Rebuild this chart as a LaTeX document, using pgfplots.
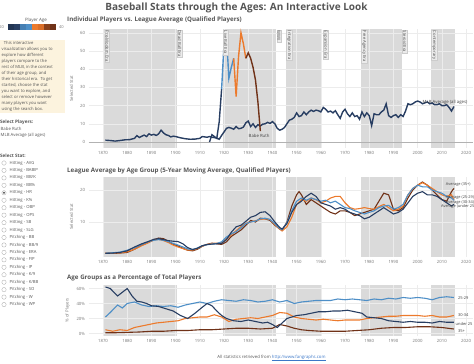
\documentclass[border=0pt]{standalone}
\usepackage{fontspec}
\setmainfont{Open Sans}
\usepackage{pgfplots}
\pgfplotsset{compat=1.18}
\definecolor{cnavy}{RGB}{40,62,98}
\definecolor{cblue}{RGB}{78,143,199}
\definecolor{corange}{RGB}{236,122,44}
\definecolor{cbrown}{RGB}{112,50,24}
\definecolor{band}{RGB}{218,218,218}
\definecolor{gridc}{RGB}{236,236,236}
\definecolor{tickc}{RGB}{120,120,120}
\definecolor{ttl}{RGB}{85,85,85}
\definecolor{tanbox}{RGB}{252,243,222}
\definecolor{linkc}{RGB}{60,120,200}
\newcommand\tk{\fontsize{4.3}{5}\selectfont}
\pgfplotsset{
  dstyle/.style={
    scale only axis, width=384.8pt,
    xmin=1864, xmax=2023,
    set layers,
    axis line style={draw=none},
    tick style={draw=none},
    xtick={1870,1880,...,2020},
    grid=major, grid style={line width=0.35pt, color=gridc},
    ticklabel style={font=\tk, text=tickc},
    /pgf/number format/1000 sep={},
    /pgf/number format/assume math mode=true,
    ylabel style={font=\tk, text=tickc},
    clip=false,
  },
  bandst/.style={fill=band, draw=none, on layer=axis background, forget plot},
}
\tikzset{eralbl/.style={rotate=-90, anchor=south west, font=\fontsize{4.2}{5}\selectfont, text=ttl, fill=white!92!black, draw=gray!40, line width=0.2pt, inner sep=0.7pt}}
\newcommand\bands[2]{%
  \addplot[bandst] coordinates {(1870.5,#1) (1900.5,#1) (1900.5,#2) (1870.5,#2)} -- cycle;
  \addplot[bandst] coordinates {(1919.5,#1) (1941.5,#1) (1941.5,#2) (1919.5,#2)} -- cycle;
  \addplot[bandst] coordinates {(1945.5,#1) (1960.5,#1) (1960.5,#2) (1945.5,#2)} -- cycle;
  \addplot[bandst] coordinates {(1976.5,#1) (1993.5,#1) (1993.5,#2) (1976.5,#2)} -- cycle;
  \addplot[bandst] coordinates {(2005.5,#1) (2015.5,#1) (2015.5,#2) (2005.5,#2)} -- cycle;
}

\pgfplotstableread{
year val
1871 1.0
1873 0.8
1875 0.5
1877 0.8
1879 1.2
1881 1.3
1883 2.0
1884 3.5
1885 2.5
1887 3.8
1888 3.0
1889 4.5
1890 3.8
1891 4.2
1892 3.6
1893 4.5
1894 6.5
1895 5.0
1896 4.0
1897 3.6
1898 2.8
1899 3.2
1900 3.0
1902 2.3
1904 1.8
1906 1.5
1908 1.6
1910 2.0
1911 3.0
1912 2.8
1913 2.6
1914 3.0
1915 2.6
1916 2.4
1917 2.2
1918 1.5
1919 3.6
1920 5.5
1921 7.5
1922 8.0
1923 7.6
1924 7.0
1925 8.5
1926 7.3
1927 7.5
1928 8.2
1929 10.5
1930 11.5
1931 8.5
1932 10.0
1933 8.0
1934 9.5
1935 8.8
1936 9.8
1937 10.0
1938 10.8
1939 10.2
1940 11.2
1941 10.0
1942 7.5
1943 6.5
1944 7.0
1945 8.0
1946 10.0
1947 12.0
1948 12.5
1949 13.5
1950 16.0
1951 14.0
1952 14.5
1953 16.5
1954 15.0
1955 16.5
1956 17.5
1957 16.8
1958 17.5
1959 17.2
1960 16.5
1961 19.0
1962 18.0
1963 16.5
1964 17.0
1965 16.0
1966 17.2
1967 15.0
1968 13.0
1969 16.5
1970 18.0
1971 15.5
1972 14.0
1973 16.0
1974 14.0
1975 14.5
1976 12.5
1977 16.5
1978 14.0
1979 16.0
1980 14.5
1981 9.0
1982 15.5
1983 15.0
1984 15.0
1985 16.5
1986 17.5
1987 21.0
1988 14.5
1989 13.5
1990 14.5
1991 15.0
1992 13.5
1993 15.0
1994 14.0
1995 17.0
1996 21.0
1997 20.5
1998 21.0
1999 22.0
2000 22.5
2001 22.0
2002 21.0
2003 21.5
2004 22.0
2005 21.0
2006 21.5
2007 20.5
2008 20.5
2009 21.0
2010 20.0
2011 20.0
2012 20.5
2013 19.0
2014 17.0
2015 19.5
}\mlbavg

\begin{document}
\begin{tikzpicture}

% ---------- main title
\node[font=\fontsize{10}{12}\selectfont\bfseries, text=ttl] at (236.5pt,356pt) {Baseball Stats through the Ages: An Interactive Look};

% ---------- sidebar
\node[font=\fontsize{4.5}{5}\selectfont, text=ttl] at (36pt,343.5pt) {Player Age};
\node[font=\fontsize{4}{5}\selectfont, text=tickc, anchor=east] at (7.5pt,337pt) {20};
\node[font=\fontsize{4}{5}\selectfont, text=tickc, anchor=west] at (55.5pt,337pt) {40};
\fill[cnavy!85!black] (7.5pt,334pt) rectangle (13.5pt,340pt);
\fill[cnavy] (13.5pt,334pt) rectangle (19.5pt,340pt);
\fill[cblue!80!cnavy] (19.5pt,334pt) rectangle (25.5pt,340pt);
\fill[cblue] (25.5pt,334pt) rectangle (31.5pt,340pt);
\fill[corange] (31.5pt,334pt) rectangle (37.5pt,340pt);
\fill[corange!85!cbrown] (37.5pt,334pt) rectangle (43.5pt,340pt);
\fill[cbrown!80!corange] (43.5pt,334pt) rectangle (49.5pt,340pt);
\fill[cbrown] (49.5pt,334pt) rectangle (55.5pt,340pt);

\fill[tanbox] (0pt,251pt) rectangle (65pt,324pt);
\node[anchor=north west, align=left, font=\fontsize{4.2}{6}\selectfont, text=ttl, inner sep=0pt] at (1.5pt,323pt) {%
\ \ This interactive\\
visualization allows you to\\
explore how different\\
players compare to the\\
rest of MLB, in the context\\
of their age group, and\\
their historical era.\ \ To get\\
started, choose the stat\\
you want to explore, and\\
select or remove however\\
many players you want\\
using the search box.};

\node[anchor=west, inner sep=0pt, font=\fontsize{4.6}{5}\selectfont\bfseries, text=ttl] at (0pt,242pt) {Select Players:};
\node[anchor=west, inner sep=0pt, font=\fontsize{4.3}{5}\selectfont, text=ttl] at (0.5pt,235.5pt) {Babe Ruth};
\node[anchor=west, inner sep=0pt, font=\fontsize{4.3}{5}\selectfont, text=ttl] at (0.5pt,229pt) {MLB Average (all ages)};
\node[anchor=west, inner sep=0pt, font=\fontsize{4.6}{5}\selectfont\bfseries, text=ttl] at (0pt,208pt) {Select Stat:};
\foreach \t [count=\i from 0] in {Hitting - AVG, Hitting - BABIP, Hitting - BB/K, Hitting - BB\%, Hitting - HR, Hitting - K\%, Hitting - OBP, Hitting - OPS, Hitting - SB, Hitting - SLG, Pitching - BB, Pitching - BB/9, Pitching - ERA, Pitching - FIP, Pitching - IP, Pitching - K/9, Pitching - K/BB, Pitching - SO, Pitching - W, Pitching - WP}{
  \pgfmathsetmacro\yy{201-\i*7.45}
  \draw[gray!70, line width=0.3pt, fill=white] (4pt,\yy pt) circle (2.2pt);
  \node[anchor=west, inner sep=0pt, font=\fontsize{4.2}{5}\selectfont, text=ttl] at (9.5pt,\yy pt) {\t};
}
\fill[ttl] (4pt,171.2pt) circle (1.2pt);

% ---------- panel titles
\node[anchor=west, inner sep=0pt, font=\fontsize{6.2}{7}\selectfont\bfseries, text=ttl] at (67pt,344.5pt) {Individual Players vs. League Average (Qualified Players)};
\node[anchor=west, inner sep=0pt, font=\fontsize{6.2}{7}\selectfont\bfseries, text=ttl] at (67pt,193pt) {League Average by Age Group (5-Year Moving Average, Qualified Players)};
\node[anchor=west, inner sep=0pt, font=\fontsize{6.2}{7}\selectfont\bfseries, text=ttl] at (67pt,86pt) {Age Groups as a Percentage of Total Players};

% ---------- panel 1
\begin{axis}[dstyle, at={(88.5pt,216pt)}, anchor=south west,
  height=118.8pt, ymin=-3.3, ymax=62, ytick={0,10,...,60},
  ylabel={Selected Stat}]
\bands{-3.3}{62}
\addplot[gray!60, line width=0.6pt, forget plot] coordinates {(1864,0) (2023,0)};
\addplot[cnavy, line width=1.4pt] table[x=year, y=val] {\mlbavg};
\addplot[cnavy, line width=1.4pt] coordinates {(1914,0) (1915,4) (1916,3) (1917,2) (1918,11) (1919,29)};
\addplot[cblue, line width=1.4pt] coordinates {(1919,29) (1920,54) (1921,59) (1922,35) (1923,41) (1924,46)};
\addplot[corange, line width=1.4pt] coordinates {(1924,46) (1925,25) (1926,47) (1927,60) (1928,54) (1929,46)};
\addplot[cbrown, line width=1.4pt] coordinates {(1929,46) (1930,49) (1931,46) (1932,41) (1933,34) (1934,22) (1935,6)};
\node[font=\fontsize{4.3}{5}\selectfont, text=black!75, inner sep=0.5pt] at (axis cs:1934.5,3.6) {Babe Ruth};
\node[anchor=west, font=\fontsize{4.3}{5}\selectfont, text=black!75, inner sep=0.5pt] at (axis cs:2001.8,21.8) {MLB Average (all ages)};
\node[eralbl] at (axis cs:1870.7,61.5) {Pre-Modern Era};
\node[eralbl] at (axis cs:1900.7,61.5) {Dead Ball Era};
\node[eralbl] at (axis cs:1919.7,61.5) {Live Ball Era};
\node[eralbl] at (axis cs:1941.7,61.5) {WWII};
\node[eralbl] at (axis cs:1945.7,61.5) {Integration Era};
\node[eralbl] at (axis cs:1960.7,61.5) {Expansion Era};
\node[eralbl] at (axis cs:1976.7,61.5) {Free Agency Era};
\node[eralbl] at (axis cs:1993.7,61.5) {Steroid Era};
\node[eralbl] at (axis cs:2005.7,61.5) {Contemporary};
\end{axis}

% ---------- panel 2
\begin{axis}[dstyle, at={(88.5pt,107.4pt)}, anchor=south west,
  height=79.4pt, ymin=-0.8, ymax=24, ytick={10,20},
  ylabel={Selected Stat}]
\bands{-0.8}{24}
\addplot[cbrown, line width=1.1pt] coordinates {(1871,0.2) (1874,0.2) (1877,0.3) (1880,0.5) (1883,1.5) (1886,2.8) (1889,3.8) (1891,4.5) (1893,5.0) (1895,4.8) (1897,4.0) (1899,3.0) (1901,2.5) (1903,1.8) (1905,1.2) (1907,1.0) (1909,1.5) (1911,2.4) (1913,3.0) (1915,3.4) (1917,3.2) (1919,3.0) (1921,3.8) (1923,5.5) (1925,6.5) (1927,7.5) (1929,9.0) (1931,10.5) (1933,10.0) (1935,11.2) (1937,11.0) (1939,10.5) (1941,9.0) (1943,7.8) (1944,7.4) (1946,10.0) (1948,15.0) (1950,18.5) (1951,19.5) (1952,18.5) (1954,15.5) (1956,17.0) (1958,16.0) (1960,15.0) (1962,14.0) (1964,13.0) (1966,12.5) (1968,13.5) (1970,13.5) (1972,13.0) (1974,12.0) (1976,12.5) (1978,13.0) (1980,13.5) (1982,14.0) (1984,16.5) (1986,19.0) (1988,18.5) (1990,14.0) (1992,13.5) (1994,14.5) (1996,17.5) (1998,20.0) (2000,21.5) (2002,22.5) (2004,21.5) (2006,20.0) (2008,18.5) (2010,17.0) (2012,16.5) (2014,19.5) (2015,20.5)};
\addplot[corange, line width=1.1pt] coordinates {(1871,0.4) (1874,0.3) (1877,0.4) (1880,0.7) (1883,1.5) (1886,2.6) (1889,3.6) (1891,4.4) (1893,4.6) (1895,4.2) (1897,3.6) (1899,2.8) (1901,2.2) (1903,1.7) (1905,1.2) (1907,1.2) (1909,1.7) (1911,2.5) (1913,3.0) (1915,3.3) (1917,3.4) (1919,3.5) (1921,4.8) (1923,6.0) (1925,7.3) (1927,8.6) (1929,9.6) (1931,10.0) (1933,10.4) (1935,10.8) (1937,11.0) (1939,10.8) (1941,9.2) (1943,7.8) (1944,7.2) (1946,8.5) (1948,11.5) (1950,15.5) (1952,17.0) (1954,16.5) (1956,17.5) (1958,17.0) (1960,16.0) (1962,16.5) (1964,17.5) (1966,18.0) (1968,18.0) (1970,16.0) (1972,14.5) (1974,14.0) (1976,14.2) (1978,14.5) (1980,14.2) (1982,14.0) (1984,14.8) (1986,15.5) (1988,14.5) (1990,13.5) (1992,14.0) (1994,15.0) (1996,18.5) (1998,20.5) (2000,21.5) (2002,22.3) (2004,21.5) (2006,20.5) (2008,19.5) (2010,18.5) (2012,18.0) (2014,18.5) (2015,17.0)};
\addplot[cblue, line width=1.1pt] coordinates {(1871,0.3) (1874,0.4) (1877,0.6) (1880,1.2) (1883,2.0) (1886,3.0) (1889,3.9) (1891,4.3) (1893,4.5) (1895,4.3) (1897,3.9) (1899,3.3) (1901,2.8) (1903,2.2) (1905,1.6) (1907,1.4) (1909,1.9) (1911,2.6) (1913,2.9) (1915,3.1) (1917,3.3) (1919,3.8) (1921,5.3) (1923,6.3) (1925,7.0) (1927,8.2) (1929,9.5) (1931,10.0) (1933,10.3) (1935,11.0) (1937,11.2) (1939,10.8) (1941,9.5) (1943,8.0) (1944,7.6) (1946,9.8) (1948,13.5) (1950,16.5) (1952,17.5) (1954,16.8) (1956,17.5) (1958,17.0) (1960,16.5) (1962,16.8) (1964,16.0) (1966,16.5) (1968,15.5) (1970,14.5) (1972,14.2) (1974,13.5) (1976,13.0) (1978,12.5) (1980,13.0) (1982,13.5) (1984,14.5) (1986,15.0) (1988,15.2) (1990,14.0) (1992,14.5) (1994,15.5) (1996,18.5) (1998,20.5) (2000,21.5) (2002,21.0) (2004,21.0) (2006,20.0) (2008,19.5) (2010,19.0) (2012,18.0) (2014,17.5) (2015,16.8)};
\addplot[cnavy, line width=1.1pt] coordinates {(1871,0.2) (1874,0.3) (1877,0.5) (1880,1.0) (1883,2.2) (1886,3.2) (1889,4.0) (1891,4.6) (1893,4.8) (1895,4.5) (1897,4.2) (1899,4.0) (1901,3.9) (1903,3.2) (1905,2.0) (1907,1.4) (1909,1.8) (1911,2.6) (1913,3.0) (1915,3.1) (1917,3.2) (1919,3.3) (1921,4.5) (1923,6.8) (1925,8.5) (1927,9.0) (1929,10.2) (1931,11.5) (1933,12.0) (1935,13.0) (1937,13.2) (1939,12.0) (1941,10.0) (1943,8.3) (1944,7.8) (1946,9.5) (1948,13.0) (1950,15.5) (1952,16.5) (1954,18.0) (1956,19.0) (1958,18.0) (1960,16.0) (1962,15.5) (1964,15.0) (1966,14.0) (1968,14.5) (1970,14.0) (1972,13.0) (1974,12.5) (1976,12.0) (1978,11.0) (1980,11.5) (1982,12.5) (1984,13.5) (1986,14.5) (1988,13.5) (1990,12.5) (1992,13.0) (1994,14.0) (1996,16.0) (1998,18.0) (2000,19.0) (2002,19.5) (2004,18.5) (2006,18.5) (2008,18.0) (2010,17.0) (2012,16.0) (2014,15.0) (2015,15.5)};
\node[anchor=west, font=\fontsize{3.9}{4}\selectfont, text=black!75, inner sep=0.3pt] at (axis cs:2011.5,21.6) {Average (35+)};
\node[anchor=west, font=\fontsize{3.9}{4}\selectfont, text=black!75, inner sep=0.3pt] at (axis cs:2011.5,17.7) {Average (25-29)};
\node[anchor=west, font=\fontsize{3.9}{4}\selectfont, text=black!75, inner sep=0.3pt] at (axis cs:2011.5,16.2) {Average (30-34)};
\node[anchor=west, font=\fontsize{3.9}{4}\selectfont, text=black!75, inner sep=0.3pt] at (axis cs:2009.5,14.7) {Average (under 25)};
\end{axis}

% ---------- panel 3
\begin{axis}[dstyle, at={(88.5pt,28.25pt)}, anchor=south west,
  height=51pt, ymin=-3, ymax=65, ytick={0,20,40,60},
  yticklabels={0\%,20\%,40\%,60\%},
  ylabel={\% of Players}]
\bands{-3}{65}
\addplot[cbrown, line width=1.1pt] coordinates {(1871,1) (1875,1) (1880,1.5) (1885,2) (1890,3) (1895,3) (1900,4) (1905,4) (1910,5) (1915,5) (1920,6) (1925,7) (1930,7) (1935,6) (1940,7) (1943,12) (1946,10) (1949,7) (1952,5) (1955,4) (1960,3) (1965,3) (1970,3) (1975,4) (1980,5) (1985,7) (1990,8) (1995,8) (2000,9) (2005,9) (2010,8) (2015,6)};
\addplot[corange, line width=1.1pt] coordinates {(1871,5) (1874,3) (1877,5) (1880,4) (1883,8) (1886,10) (1889,12) (1892,14) (1895,15) (1898,16) (1901,17) (1904,20) (1907,21) (1910,22) (1913,22) (1916,25) (1919,22) (1922,16) (1925,19) (1928,20) (1931,21) (1934,20) (1937,22) (1940,24) (1943,28) (1946,27) (1949,22) (1952,20) (1955,19) (1958,18) (1961,19) (1964,18) (1967,17) (1970,18) (1973,18) (1976,18) (1979,20) (1982,21) (1985,22) (1988,23) (1991,23) (1994,24) (1997,24) (2000,24) (2003,23) (2006,24) (2009,22) (2012,22) (2015,24)};
\addplot[cblue, line width=1.1pt] coordinates {(1871,22) (1873,28) (1876,38) (1878,34) (1880,40) (1883,42) (1886,38) (1889,36) (1892,37) (1895,36) (1898,37) (1901,35) (1904,38) (1907,40) (1910,42) (1913,40) (1916,43) (1919,45) (1922,44) (1925,43) (1928,45) (1931,44) (1934,42) (1937,43) (1940,45) (1943,42) (1946,44) (1949,40) (1952,42) (1955,43) (1958,44) (1961,44) (1964,44) (1967,46) (1970,45) (1973,46) (1976,45) (1979,44) (1982,46) (1985,45) (1988,47) (1991,46) (1994,48) (1997,47) (2000,48) (2003,47) (2006,45) (2009,48) (2012,49) (2015,48)};
\addplot[cnavy, line width=1.1pt] coordinates {(1871,62) (1873,60) (1876,50) (1878,55) (1880,60) (1882,50) (1884,43) (1886,42) (1888,40) (1890,37) (1893,36) (1896,33) (1899,30) (1902,24) (1905,20) (1908,27) (1911,35) (1913,40) (1915,37) (1917,30) (1919,24) (1921,20) (1924,17) (1927,16) (1930,18) (1933,16) (1936,14) (1938,15) (1940,12) (1942,8) (1944,14) (1946,20) (1948,22) (1950,24) (1953,25) (1956,27) (1959,29) (1962,29) (1965,30) (1968,30) (1971,31) (1974,29) (1977,27) (1979,22) (1982,21) (1985,20) (1988,17) (1991,16) (1994,15) (1997,16) (2000,15) (2003,15) (2006,14) (2009,16) (2012,15) (2015,15)};
\node[anchor=west, font=\fontsize{4}{5}\selectfont, text=black!75, inner sep=0.3pt] at (axis cs:2016.5,47.5) {25-29};
\node[anchor=west, font=\fontsize{4}{5}\selectfont, text=black!75, inner sep=0.3pt] at (axis cs:2016.5,24.7) {30-34};
\node[anchor=west, font=\fontsize{4}{5}\selectfont, text=black!75, inner sep=0.3pt] at (axis cs:2015.5,12.7) {under 25};
\node[anchor=west, font=\fontsize{4}{5}\selectfont, text=black!75, inner sep=0.3pt] at (axis cs:2016.5,3.3) {35+};
\end{axis}

% ---------- footer
\node[font=\fontsize{4.3}{5}\selectfont, text=ttl] at (271.5pt,6pt) {All statistics retrieved from \textcolor{linkc}{\underline{http://www.fangraphs.com}}};

\pgfresetboundingbox
\path[use as bounding box] (0pt,0pt) rectangle (474pt,364pt);
\end{tikzpicture}
\end{document}
